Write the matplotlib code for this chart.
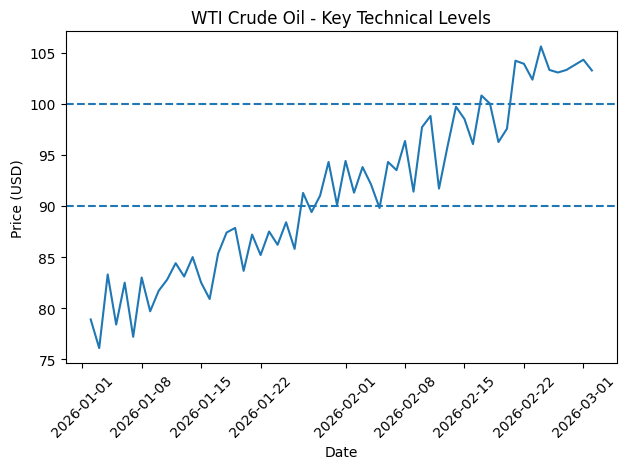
import matplotlib
matplotlib.use("Agg")
import matplotlib.pyplot as plt
import pandas as pd
import numpy as np

start_date = "2026-01-02"
prices = [
    78.9, 76.1, 83.3, 78.4, 82.5, 77.2, 83.0, 79.7, 81.7, 82.8,
    84.4, 83.1, 85.0, 82.5, 80.9, 85.35, 87.4, 87.85, 83.65, 87.2,
    85.2, 87.5, 86.2, 88.4, 85.8, 91.27, 89.4, 91.0, 94.3, 90.1,
    94.4, 91.3, 93.8, 92.1, 89.8, 94.3, 93.5, 96.35, 91.4, 97.7,
    98.8, 91.7, 95.8, 99.7, 98.5, 96.05, 100.8, 100.0, 96.25, 97.55,
    104.2, 103.9, 102.35, 105.6, 103.3, 103.05, 103.3, 103.8, 104.3, 103.25,
]
dates = pd.date_range(start_date, periods=len(prices), freq="D")
levels = [100, 90]

fig, ax = plt.subplots(figsize=(6.4, 4.8), dpi=100)
ax.plot(dates, prices)
for lv in levels:
    ax.axhline(lv, linestyle="--")
ax.set_title("WTI Crude Oil - Key Technical Levels")
ax.set_xlabel("Date")
ax.set_ylabel("Price (USD)")
plt.xticks(rotation=45)
fig.tight_layout()
fig.savefig("out.png", dpi=100, bbox_inches="tight")
